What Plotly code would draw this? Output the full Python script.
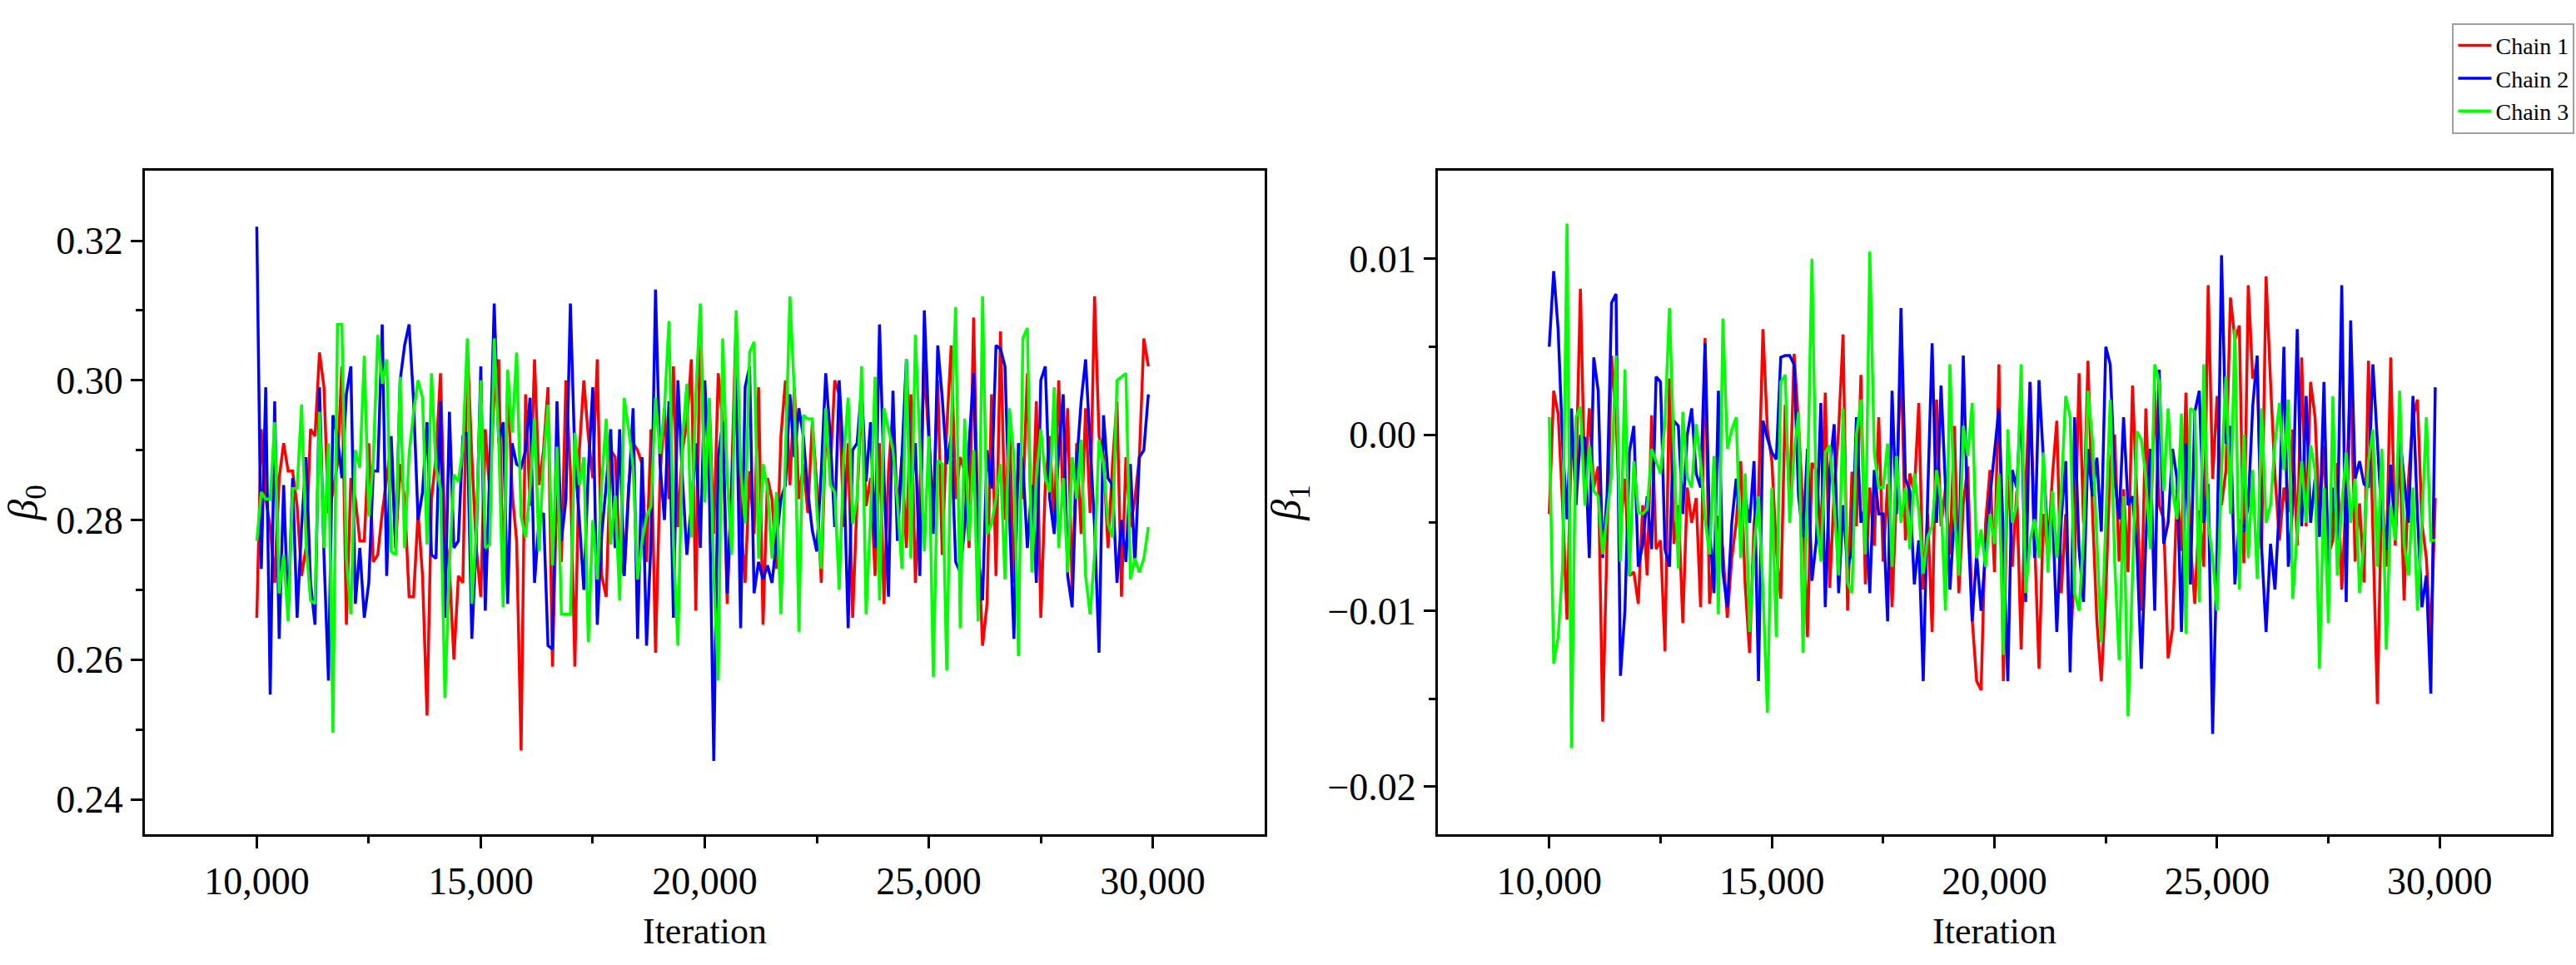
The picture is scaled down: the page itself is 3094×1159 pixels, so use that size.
import plotly.graph_objects as go

# Iterations (x axis)
iterations = list(range(10000, 30000, 100))

# beta_0 traces (left panel)
b0_chain1 = [
    0.266, 0.293, 0.283, 0.279, 0.271, 0.286, 0.291, 0.287, 0.287, 0.282,
    0.272, 0.276, 0.293, 0.292, 0.304, 0.299, 0.281, 0.284, 0.288, 0.302,
    0.265, 0.286, 0.283, 0.277, 0.277, 0.291, 0.274, 0.275, 0.281, 0.286,
    0.291, 0.276, 0.288, 0.283, 0.269, 0.269, 0.281, 0.272, 0.252, 0.283,
    0.289, 0.301, 0.278, 0.273, 0.260, 0.272, 0.271, 0.305, 0.289, 0.276,
    0.269, 0.293, 0.284, 0.298, 0.303, 0.270, 0.300, 0.284, 0.277, 0.247,
    0.298, 0.282, 0.303, 0.285, 0.290, 0.299, 0.259, 0.285, 0.274, 0.300,
    0.287, 0.259, 0.290, 0.300, 0.292, 0.286, 0.303, 0.272, 0.269, 0.290,
    0.289, 0.275, 0.272, 0.285, 0.291, 0.290, 0.288, 0.274, 0.293, 0.261,
    0.286, 0.296, 0.283, 0.302, 0.279, 0.290, 0.294, 0.303, 0.267, 0.310,
    0.284, 0.297, 0.278, 0.301, 0.294, 0.268, 0.286, 0.309, 0.280, 0.271,
    0.287, 0.278, 0.299, 0.265, 0.286, 0.283, 0.273, 0.292, 0.300, 0.285,
    0.299, 0.283, 0.288, 0.281, 0.294, 0.285, 0.271, 0.293, 0.287, 0.300,
    0.298, 0.279, 0.291, 0.266, 0.283, 0.297, 0.282, 0.286, 0.272, 0.291,
    0.268, 0.287, 0.296, 0.281, 0.289, 0.276, 0.298, 0.271, 0.284, 0.302,
    0.291, 0.281, 0.300, 0.275, 0.293, 0.305, 0.283, 0.289, 0.287, 0.276,
    0.309, 0.278, 0.262, 0.268, 0.298, 0.272, 0.307, 0.280, 0.294, 0.271,
    0.289, 0.283, 0.301, 0.276, 0.297, 0.266, 0.285, 0.292, 0.279, 0.300,
    0.282, 0.296, 0.270, 0.291, 0.278, 0.296, 0.281, 0.312, 0.292, 0.289,
    0.276, 0.288, 0.297, 0.269, 0.289, 0.279, 0.283, 0.289, 0.306, 0.302,
]
b0_chain2 = [
    0.322, 0.273, 0.299, 0.255, 0.297, 0.263, 0.285, 0.266, 0.286, 0.266,
    0.279, 0.289, 0.271, 0.265, 0.299, 0.275, 0.257, 0.295, 0.292, 0.286,
    0.298, 0.302, 0.268, 0.276, 0.266, 0.271, 0.287, 0.287, 0.308, 0.272,
    0.292, 0.276, 0.300, 0.305, 0.308, 0.297, 0.280, 0.284, 0.294, 0.275,
    0.2745, 0.297, 0.266, 0.2955, 0.276, 0.277, 0.292, 0.2925, 0.263, 0.277,
    0.302, 0.267, 0.287, 0.311, 0.291, 0.294, 0.268, 0.291, 0.288, 0.2875,
    0.290, 0.2975, 0.271, 0.280, 0.281, 0.262, 0.2615, 0.297, 0.277, 0.283,
    0.311, 0.289, 0.280, 0.270, 0.287, 0.299, 0.265, 0.278, 0.285, 0.293,
    0.276, 0.293, 0.272, 0.285, 0.296, 0.263, 0.289, 0.262, 0.277, 0.313,
    0.288, 0.280, 0.297, 0.266, 0.300, 0.286, 0.275, 0.282, 0.291, 0.276,
    0.300, 0.285, 0.2455, 0.289, 0.294, 0.2695, 0.284, 0.301, 0.2645, 0.299,
    0.302, 0.2695, 0.274, 0.2715, 0.2735, 0.271, 0.277, 0.283, 0.285, 0.298,
    0.289, 0.296, 0.292, 0.284, 0.2785, 0.2755, 0.287, 0.301, 0.292, 0.279,
    0.300, 0.288, 0.2645, 0.290, 0.291, 0.299, 0.2855, 0.294, 0.276, 0.308,
    0.286, 0.269, 0.2985, 0.277, 0.289, 0.303, 0.283, 0.291, 0.272, 0.310,
    0.293, 0.278, 0.305, 0.2975, 0.288, 0.292, 0.274, 0.2725, 0.279, 0.291,
    0.301, 0.275, 0.2685, 0.290, 0.2845, 0.305, 0.3045, 0.302, 0.281, 0.263,
    0.291, 0.288, 0.276, 0.285, 0.271, 0.300, 0.302, 0.283, 0.278, 0.290,
    0.298, 0.272, 0.2675, 0.288, 0.297, 0.303, 0.291, 0.279, 0.261, 0.295,
    0.286, 0.285, 0.271, 0.280, 0.274, 0.288, 0.2735, 0.289, 0.290, 0.298,
]
b0_chain3 = [
    0.277, 0.284, 0.283, 0.283, 0.294, 0.2695, 0.275, 0.2655, 0.2845, 0.2845,
    0.2965, 0.2765, 0.2685, 0.268, 0.2955, 0.276, 0.291, 0.2495, 0.308, 0.308,
    0.2745, 0.2665, 0.290, 0.2875, 0.3035, 0.2805, 0.2885, 0.3065, 0.2995, 0.303,
    0.2755, 0.275, 0.3005, 0.276, 0.2895, 0.2955, 0.300, 0.2975, 0.2765, 0.301,
    0.2875, 0.2845, 0.2545, 0.2735, 0.2865, 0.2855, 0.2905, 0.306, 0.268, 0.2785,
    0.300, 0.276, 0.2765, 0.306, 0.2915, 0.2675, 0.3015, 0.2925, 0.304, 0.2805,
    0.2775, 0.2845, 0.2945, 0.2755, 0.2885, 0.2965, 0.2735, 0.2905, 0.2665, 0.2665,
    0.2665, 0.2925, 0.285, 0.289, 0.2625, 0.280, 0.2715, 0.2855, 0.2945, 0.2765,
    0.2835, 0.2685, 0.2975, 0.293, 0.2875, 0.2715, 0.277, 0.2805, 0.282, 0.2975,
    0.2895, 0.296, 0.3085, 0.2765, 0.262, 0.2915, 0.2995, 0.2775, 0.298, 0.311,
    0.2825, 0.2975, 0.272, 0.257, 0.306, 0.286, 0.275, 0.310, 0.2875, 0.2795,
    0.304, 0.3055, 0.2745, 0.288, 0.2845, 0.2745, 0.284, 0.2665, 0.291, 0.312,
    0.298, 0.264, 0.295, 0.2945, 0.2945, 0.2815, 0.273, 0.296, 0.285, 0.284,
    0.270, 0.289, 0.2975, 0.2795, 0.283, 0.302, 0.2665, 0.2805, 0.3005, 0.2685,
    0.296, 0.293, 0.290, 0.2825, 0.273, 0.303, 0.2745, 0.3065, 0.2905, 0.2755,
    0.292, 0.2575, 0.2885, 0.288, 0.2585, 0.2935, 0.3105, 0.2645, 0.2945, 0.277,
    0.290, 0.2655, 0.312, 0.278, 0.2795, 0.283, 0.288, 0.2715, 0.296, 0.289,
    0.2605, 0.306, 0.3075, 0.2725, 0.286, 0.293, 0.286, 0.284, 0.299, 0.276,
    0.286, 0.2725, 0.289, 0.283, 0.2915, 0.272, 0.2665, 0.275, 0.2915, 0.288,
    0.2795, 0.2775, 0.300, 0.3005, 0.301, 0.2715, 0.2745, 0.2725, 0.2745, 0.279,
]

# beta_1 traces (right panel)
b1_chain1 = [
    -0.0045, 0.0025, 0.0012, -0.0040, -0.0105, 0.0001, -0.0025, 0.0083, -0.0030, 0.0015,
    -0.0030, -0.0018, -0.0163, -0.0060, 0.0045, 0.0010, -0.0052, -0.0025, -0.0080, -0.0078,
    -0.0096, -0.0040, -0.0080, 0.0011, -0.0065, -0.0060, -0.0123, 0.0032, -0.0062, -0.0040,
    -0.0107, -0.0030, -0.0050, -0.0036, -0.0098, 0.0055, -0.0096, -0.0068, -0.0046, -0.0066,
    -0.0104, -0.0070, -0.0050, -0.0015, -0.0085, -0.0124, -0.0050, -0.0035, 0.0060, 0.0003,
    -0.0015, -0.0065, -0.0093, 0.0017, -0.0038, 0.0046, 0.0006, -0.0044, -0.0115, -0.0016,
    -0.0020, -0.0060, 0.0024, -0.0087, -0.0032, 0.0003, 0.0057, -0.0100, -0.0021, -0.0052,
    0.0034, -0.0085, -0.0030, -0.0063, 0.0010, -0.0072, -0.0028, -0.0098, -0.0034, 0.0046,
    -0.0060, -0.0022, -0.0033, 0.0018, -0.0088, -0.0045, -0.0112, 0.0020, -0.0052, -0.0030,
    -0.0068, 0.0005, -0.0090, -0.0039, -0.0018, -0.0105, -0.0140, -0.0145, -0.0050, -0.0020,
    -0.0078, 0.0040, -0.0140, -0.0012, -0.0075, -0.0032, -0.0122, -0.0030, 0.0030, -0.0058,
    -0.0133, -0.0045, -0.0068, -0.0024, 0.0008, -0.0090, -0.0045, -0.0123, -0.0075, 0.0035,
    -0.0050, 0.0042, -0.0043, -0.0106, -0.0140, -0.0090, -0.0016, 0.0000, -0.0072, -0.0031,
    -0.0078, 0.0028, -0.0035, -0.0100, 0.0015, -0.0058, 0.0025, -0.0040, -0.0048, -0.0127,
    -0.0110, -0.0031, -0.0066, 0.0024, -0.0062, -0.0096, -0.0043, -0.0075, 0.0085, -0.0025,
    0.0022, -0.0040, -0.0020, 0.0078, 0.0054, 0.0062, -0.0073, 0.0085, 0.0032, 0.0040,
    -0.0065, 0.0090, 0.0030, -0.0023, -0.0060, -0.0030, -0.0044, 0.0003, -0.0063, 0.0044,
    -0.0052, 0.0030, 0.0010, -0.0048, -0.0006, -0.0068, -0.0060, -0.0016, -0.0088, -0.0035,
    0.0038, -0.0072, -0.0039, -0.0084, 0.0042, -0.0050, -0.0153, -0.0028, -0.0075, 0.0044,
    -0.0063, -0.0005, -0.0094, -0.0025, 0.0010, 0.0020, -0.0050, -0.0070, -0.0118, -0.0036,
]
b1_chain2 = [
    0.0050, 0.0093, 0.0060, -0.0005, -0.0048, 0.0015, -0.0040, -0.0001, -0.0002, -0.0070,
    0.0044, 0.0025, -0.0070, -0.0034, 0.0075, 0.0080, -0.0137, -0.0100, -0.0010, 0.0005,
    -0.0075, -0.0062, -0.0035, -0.0065, 0.0033, 0.0030, -0.0065, -0.0075, 0.0008, 0.0005,
    -0.0045, 0.0000, 0.0015, -0.0022, -0.0030, 0.0052, -0.0052, -0.0090, 0.0025, -0.0078,
    -0.0098, -0.0050, -0.0025, -0.0055, -0.0035, -0.0050, -0.0015, -0.0140, 0.0008, -0.0002,
    -0.0010, -0.0014, 0.0044, 0.0045, 0.0045, 0.0040, -0.0035, -0.0058, -0.0008, -0.0083,
    -0.0060, 0.0018, -0.0098, -0.0020, 0.0006, -0.0090, -0.0040, -0.0076, -0.0065, 0.0010,
    -0.0050, -0.0040, -0.0090, -0.0020, -0.0045, -0.0045, -0.0106, 0.0025, -0.0045, 0.0072,
    -0.0025, -0.0032, -0.0085, -0.0060, -0.0140, -0.0035, 0.0052, -0.0050, 0.0028, -0.0035,
    -0.0088, -0.0045, -0.0072, 0.0045, -0.0048, -0.0106, -0.0068, -0.0100, -0.0065, -0.0035,
    -0.0010, 0.0015, -0.0060, -0.0140, -0.0020, -0.0030, 0.0020, -0.0095, 0.0030, -0.0070,
    0.0031, -0.0013, -0.0060, -0.0040, -0.0112, -0.0048, -0.0015, -0.0135, 0.0010, -0.0065,
    -0.0095, -0.0008, -0.0035, -0.0013, -0.0055, 0.0050, 0.0040, -0.0025, -0.0048, 0.0010,
    -0.0040, -0.0035, -0.0065, -0.0133, -0.0060, -0.0008, -0.0100, 0.0037, -0.0062, -0.0050,
    -0.0008, -0.0025, -0.0112, -0.0005, -0.0085, 0.0013, 0.0025, -0.0050, -0.0028, -0.0170,
    -0.0065, 0.0102, -0.0005, 0.0005, -0.0085, -0.0048, -0.0055, -0.0040, 0.0016, 0.0045,
    -0.0064, -0.0112, -0.0062, -0.0088, -0.0040, 0.0050, -0.0075, -0.0040, 0.0060, -0.0052,
    0.0022, -0.0050, -0.0025, -0.0058, 0.0030, -0.0078, -0.0030, -0.0060, 0.0085, -0.0095,
    0.0065, -0.0025, -0.0015, -0.0028, -0.0030, 0.0040, -0.0005, -0.0048, -0.0065, -0.0017,
    -0.0058, 0.0000, -0.0025, -0.0050, 0.0022, -0.0045, -0.0098, -0.0080, -0.0147, 0.0027,
]
b1_chain3 = [
    0.0010, -0.0130, -0.0115, -0.0075, 0.0120, -0.0178, 0.0010, 0.0016, -0.0040, -0.0006,
    -0.0032, -0.0035, -0.0068, -0.0045, -0.0022, 0.0045, -0.0072, 0.0037, -0.0080, -0.0015,
    -0.0044, -0.0045, -0.0042, -0.0008, -0.0015, -0.0022, 0.0008, 0.0072, -0.0010, -0.0076,
    0.0013, -0.0024, -0.0030, 0.0006, -0.0015, -0.0048, -0.0068, -0.0012, -0.0102, 0.0066,
    -0.0008, 0.0003, 0.0010, -0.0070, -0.0022, -0.0112, -0.0065, -0.0035, -0.0088, -0.0158,
    -0.0030, -0.0115, 0.0030, 0.0034, -0.0050, -0.0010, 0.0013, -0.0124, -0.0030, 0.0100,
    -0.0045, -0.0072, -0.0010, -0.0006, -0.0040, -0.0080, 0.0015, -0.0084, -0.0090, 0.0000,
    0.0020, -0.0068, 0.0104, -0.0010, -0.0030, -0.0030, -0.0005, -0.0075, -0.0012, -0.0050,
    -0.0030, -0.0065, -0.0022, -0.0043, -0.0079, -0.0058, -0.0052, -0.0020, -0.0038, -0.0100,
    0.0040, -0.0045, -0.0080, 0.0005, -0.0012, 0.0018, -0.0070, -0.0054, -0.0075, -0.0045,
    -0.0062, -0.0022, -0.0125, 0.0003, -0.0050, -0.0040, 0.0040, -0.0090, -0.0060, -0.0048,
    -0.0070, -0.0010, -0.0078, -0.0032, -0.0070, -0.0032, 0.0022, 0.0010, -0.0090, -0.0100,
    -0.0058, 0.0025, -0.0003, -0.0058, -0.0118, -0.0050, 0.0020, -0.0072, -0.0128, -0.0035,
    -0.0160, -0.0080, 0.0002, -0.0003, -0.0025, -0.0065, 0.0040, 0.0030, -0.0032, 0.0015,
    -0.0032, -0.0048, 0.0012, -0.0113, 0.0015, 0.0013, -0.0095, 0.0040, -0.0050, -0.0070,
    -0.0100, -0.0020, 0.0033, -0.0045, 0.0060, -0.0088, 0.0000, -0.0070, -0.0020, -0.0082,
    0.0015, -0.0050, -0.0040, -0.0005, 0.0018, -0.0020, 0.0020, -0.0093, -0.0056, -0.0015,
    -0.0050, -0.0006, -0.0020, -0.0133, -0.0030, -0.0107, 0.0022, -0.0080, -0.0040, -0.0010,
    -0.0050, -0.0025, -0.0090, -0.0060, -0.0015, 0.0003, -0.0075, -0.0008, -0.0122, -0.0040,
    -0.0060, 0.0025, -0.0062, -0.0080, -0.0030, -0.0100, -0.0050, 0.0010, -0.0060, -0.0060,
]

chain_names = ["Chain 1", "Chain 2", "Chain 3"]
chain_colors = ["#FF0000", "#0000FF", "#00FF00"]

x_ticks = [10000, 15000, 20000, 25000, 30000]
x_minor = [12500, 17500, 22500, 27500]
y0_ticks = [0.24, 0.26, 0.28, 0.30, 0.32]
y0_minor = [0.25, 0.27, 0.29, 0.31]
y1_ticks = [-0.02, -0.01, 0.00, 0.01]
y1_minor = [-0.015, -0.005, 0.005]

FONT = "Liberation Serif"

fig = go.Figure()
for name, color, ys in zip(chain_names, chain_colors, [b0_chain1, b0_chain2, b0_chain3]):
    fig.add_trace(go.Scatter(x=iterations, y=ys, mode="lines", name=name,
                             line=dict(color=color, width=3.5), xaxis="x", yaxis="y",
                             legendgroup=name, showlegend=True))
for name, color, ys in zip(chain_names, chain_colors, [b1_chain1, b1_chain2, b1_chain3]):
    fig.add_trace(go.Scatter(x=iterations, y=ys, mode="lines", name=name,
                             line=dict(color=color, width=3.5), xaxis="x2", yaxis="y2",
                             legendgroup=name, showlegend=False))

axis_common = dict(showline=True, linecolor="black", linewidth=3, mirror=True,
                   ticks="outside", ticklen=14, tickwidth=3, tickcolor="black",
                   showgrid=False, zeroline=False,
                   tickfont=dict(family=FONT, size=46, color="black"))

fig.update_layout(
    width=3094, height=1159,
    margin=dict(l=0, r=0, t=0, b=0),
    paper_bgcolor="white", plot_bgcolor="white",
    font=dict(family=FONT, size=44, color="black"),
    xaxis=dict(domain=[0.0562, 0.491], range=[7500, 32500], tickvals=x_ticks,
               tickformat=",d", anchor="y",
               minor=dict(tickvals=x_minor, ticklen=8, tickwidth=3, ticks="outside", tickcolor="black"),
               title=dict(text="Iteration", font=dict(family=FONT, size=44, color="black"), standoff=20),
               **axis_common),
    yaxis=dict(domain=[0.1355, 0.823], range=[0.235, 0.33], tickvals=y0_ticks,
               tickformat=".2f", anchor="x",
               minor=dict(tickvals=y0_minor, ticklen=8, tickwidth=3, ticks="outside", tickcolor="black"),
               title=dict(text="<i>β</i><sub>0</sub>", font=dict(family=FONT, size=50, color="black"), standoff=16),
               **axis_common),
    xaxis2=dict(domain=[0.5582, 0.9903], range=[7500, 32500], tickvals=x_ticks,
                tickformat=",d", anchor="y2",
                minor=dict(tickvals=x_minor, ticklen=8, tickwidth=3, ticks="outside", tickcolor="black"),
                title=dict(text="Iteration", font=dict(family=FONT, size=44, color="black"), standoff=20),
                **axis_common),
    yaxis2=dict(domain=[0.1355, 0.823], range=[-0.0227, 0.015], tickvals=y1_ticks,
                tickformat=".2f", anchor="x2",
                minor=dict(tickvals=y1_minor, ticklen=8, tickwidth=3, ticks="outside", tickcolor="black"),
                title=dict(text="<i>β</i><sub>1</sub>", font=dict(family=FONT, size=50, color="black"), standoff=16),
                **axis_common),
    legend=dict(x=0.9995, xanchor="right", y=0.976, yanchor="top",
                bgcolor="white", bordercolor="#A0A0A0", borderwidth=2,
                font=dict(family=FONT, size=28, color="black"),
                tracegroupgap=0, itemwidth=40),
)

fig.write_html("out.html")
